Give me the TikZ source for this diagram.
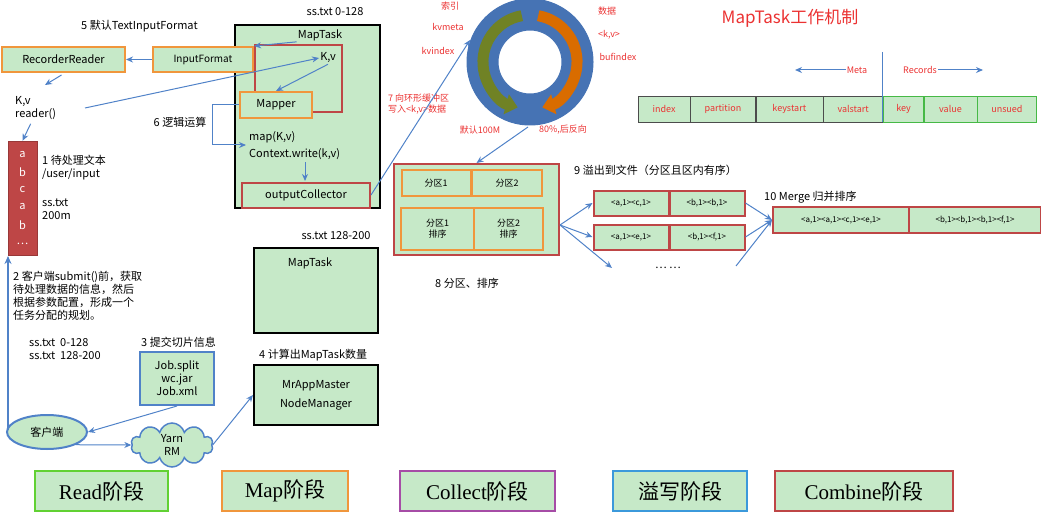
\documentclass[tikz,border=0pt]{standalone}
\usepackage{fontspec}
\setmainfont{Noto Sans CJK SC}
\newfontfamily\serifl{Liberation Serif}
\newfontfamily\cjk{Noto Sans CJK SC}
\usetikzlibrary{arrows.meta,shapes.geometric,shapes.symbols}
\definecolor{gfill}{RGB}{198,233,200}
\definecolor{obord}{RGB}{240,150,60}
\definecolor{rbord}{RGB}{190,70,70}
\definecolor{bline}{RGB}{80,130,200}
\definecolor{ringb}{RGB}{70,115,180}
\definecolor{redt}{RGB}{235,50,50}
\tikzset{
 x=1pt,y=-1pt,
 every node/.style={font=\fontsize{11}{13}\selectfont, inner sep=1pt},
 box/.style={draw, fill=gfill, line width=2pt, minimum height=25pt},
 ob/.style={box, draw=obord},
 rb/.style={box, draw=rbord},
 arr/.style={draw=bline, line width=1pt, -{Stealth[length=7pt,width=6pt]}},
 lbl/.style={anchor=west},
 stage/.style={draw, fill=gfill, line width=2.5pt, minimum height=40pt, font=\fontsize{21}{24}\selectfont},
 cell/.style={draw=gray!60!black, fill=gfill, minimum height=26pt, text=redt, font=\fontsize{9}{11}\selectfont, inner sep=0pt},
}
\begin{document}
\begin{tikzpicture}
\useasboundingbox (0,0) rectangle (1041,516);
% top-left
\node[draw, fill=gfill, line width=2pt, minimum width=145pt, minimum height=183pt] (mt1) at (307.5,116.5) {};
\node[lbl] (t5) at (80,26) {5 默认TextInputFormat};
\node[ob, minimum width=123pt] (rr) at (63.5,59.5) {RecorderReader};
\node[ob, minimum width=100pt, font=\fontsize{10}{12}\selectfont] (inf) at (203,59.5) {InputFormat};
\node (ss1) at (335,12) {ss.txt 0-128};
\node (mtl) at (320,35) {MapTask};
\node[draw=rbord, line width=2pt, minimum width=87pt, minimum height=67pt] (kvb) at (298.5,78.5) {};
\node (kv) at (328,58) {K,v};
\node[ob, minimum width=72pt, minimum height=26pt] (mapper) at (276,105) {Mapper};
\node[lbl] (mapf) at (248,137) {map(K,v)};
\node[lbl] (ctx) at (248,154) {Context.write(k,v)};
\node[rb, minimum width=128pt] (oc) at (306,195) {outputCollector};
\node (l6) at (180,122) {6 逻辑运算};
\node[lbl, align=left] (kvr) at (14,108) {K,v\\reader()};
\node[draw=rbord!80!black, fill=rbord, minimum width=29pt, minimum height=114pt] (col) at (22.5,198) {};
\foreach \c/\y in {a/155,b/172,c/190,a/207,b/225} \node[text=white] at (22.5,\y) {\c};
\node[text=white] at (22.5,244) {…};
\node[lbl, align=left] (t1) at (41,168) {1 待处理文本\\/user/input};
\node[lbl, align=left] (t1b) at (41,209) {ss.txt\\200m};
% second maptask
\node (ss2) at (336,236) {ss.txt 128-200};
\node[draw, fill=gfill, line width=2pt, minimum width=124pt, minimum height=85pt] (mt2) at (316,290.5) {};
\node (mt2l) at (310,263) {MapTask};
\node[lbl, align=left] (t2) at (12,296) {2 客户端submit()前，获取\\待处理数据的信息，然后\\根据参数配置，形成一个\\任务分配的规划。};
\node[lbl, align=left] (t2b) at (28,349) {ss.txt\ \ 0-128\\ss.txt\ \ 128-200};
\node[lbl] (t3) at (140,342) {3 提交切片信息};
\node[draw=bline, fill=gfill, line width=2pt, minimum width=74pt, minimum height=53pt, align=center] (job) at (177,378.5) {Job.split\\wc.jar\\Job.xml};
\node[lbl] (t4) at (258,355) {4 计算出MapTask数量};
\node[draw, fill=gfill, line width=2pt, minimum width=124pt, minimum height=60pt, align=center] (mam) at (316,395) {MrAppMaster\\[6pt]NodeManager};
\node[ellipse, draw=bline, fill=gfill, line width=2pt, minimum width=80pt, minimum height=34pt] (cli) at (47,432) {客户端};
\node[cloud, draw=bline, fill=gfill, line width=1.5pt, cloud puffs=10, minimum width=82pt, minimum height=44pt, align=center] (yarn) at (172,445) {Yarn\\RM};
% ring
\fill[ringb] (530,62) circle (63);
\fill[white] (530,62) circle (32);
\draw[draw=ringb, line width=1pt] (530,62) circle (63) (530,62) circle (32);
\draw[line width=11pt, draw=olive!70!green!80!black, -{Triangle[length=12pt,width=20pt]}] (521.8,15.7) arc[start angle=-100, end angle=-255, radius=47];
\draw[line width=11pt, draw=orange!85!black, -{Triangle[length=12pt,width=20pt]}] (538.2,15.7) arc[start angle=-80, end angle=75, radius=47];
\node[text=redt, font=\fontsize{9}{11}\selectfont] at (450,6) {索引};
\node[text=redt, font=\fontsize{9}{11}\selectfont] at (448,27) {kvmeta};
\node[text=redt, font=\fontsize{9}{11}\selectfont] at (438,51) {kvindex};
\node[text=redt, font=\fontsize{9}{11}\selectfont] at (607,11) {数据};
\node[text=redt, font=\fontsize{9}{11}\selectfont] at (609,35) {<k,v>};
\node[text=redt, font=\fontsize{9}{11}\selectfont] at (618,57) {bufindex};
\node[lbl, text=redt, align=left, font=\fontsize{9}{11}\selectfont] at (387,104) {7 向环形缓冲区\\写入<k,v>数据};
\node[text=redt, font=\fontsize{9}{11}\selectfont] at (480,130) {默认100M};
\node[text=redt, font=\fontsize{9}{11}\selectfont] at (563,130) {80\%,后反向};
\coordinate (ringL) at (470,40);
\coordinate (ringB) at (528,127);
% spill
\node[rb, minimum width=165pt, minimum height=91pt] (sp) at (476.5,209.5) {};
\node[ob, minimum width=69pt, minimum height=26pt, font=\fontsize{9}{11}\selectfont] (p1) at (436,183) {分区1};
\node[ob, minimum width=70pt, minimum height=26pt, font=\fontsize{9}{11}\selectfont] (p2) at (507,183) {分区2};
\node[ob, minimum width=73pt, minimum height=42pt, align=center, font=\fontsize{9}{11}\selectfont] (p3) at (437.5,229) {分区1\\排序};
\node[ob, minimum width=69pt, minimum height=42pt, align=center, font=\fontsize{9}{11}\selectfont] (p4) at (508.5,229) {分区2\\排序};
\node (t8) at (467,283) {8 分区、排序};
\node[lbl] (t9) at (573,170) {9 溢出到文件（分区且区内有序）};
\tikzset{sf/.style={rb, minimum width=75pt, minimum height=25pt, font=\fontsize{8}{10}\selectfont}}
\node[sf] (f1) at (631,203) {<a,1><c,1>};
\node[sf] (f2) at (707,203) {<b,1><b,1>};
\node[sf] (f3) at (631,237) {<a,1><e,1>};
\node[sf] (f4) at (707,237) {<b,1><f,1>};
\node (dots) at (668,268) {… …};
\node[lbl] (t10) at (763,197) {10 Merge 归并排序};
\node[rb, minimum width=136pt, minimum height=26pt, font=\fontsize{8}{10}\selectfont] (m1) at (841,220) {<a,1><a,1><c,1><e,1>};
\node[rb, minimum width=132pt, minimum height=26pt, font=\fontsize{8}{10}\selectfont] (m2) at (975,220) {<b,1><b,1><b,1><f,1>};
\coordinate (spo) at (560,225);
\coordinate (d1) at (612,268);
\coordinate (d2) at (736,266);
% title and table
\node[text=redt, font=\fontsize{17}{20}\selectfont] (title) at (790,18) {MapTask工作机制};
\node[cell, minimum width=52pt] (c1) at (664,109) {index};
\node[cell, minimum width=65pt, anchor=west] (c2) at (c1.east) {partition};
\node[cell, minimum width=67pt, anchor=west] (c3) at (c2.east) {keystart};
\node[cell, minimum width=60pt, anchor=west] (c4) at (c3.east) {valstart};
\node[cell, draw=green!45!gray, minimum width=40pt, anchor=west] (c5) at (c4.east) {key};
\node[cell, draw=green!45!gray, minimum width=53pt, anchor=west] (c6) at (c5.east) {value};
\node[cell, draw=green!45!gray, minimum width=59pt, anchor=west] (c7) at (c6.east) {unsued};
\draw[bline, line width=1pt] (882,52) -- (882,122);
\node[text=redt, font=\fontsize{9}{11}\selectfont] (meta) at (857,70) {Meta};
\node[text=redt, font=\fontsize{9}{11}\selectfont] (rec) at (920,70) {Records};
\coordinate (ma) at (795,70);
\coordinate (ra) at (983,70);
% stages
\node[stage, draw=green!55!olive!80, minimum width=133pt] (s1) at (101.5,491) {\serifl Read\cjk 阶段};
\node[stage, draw=obord, minimum width=126pt] (s2) at (285,491) {\serifl Map\cjk 阶段};
\node[stage, draw=violet!70, minimum width=155pt] (s3) at (477.5,491) {\serifl Collect\cjk 阶段};
\node[stage, draw=cyan!70!blue!80, minimum width=134pt] (s4) at (680,491) {\cjk 溢写阶段};
\node[stage, draw=rbord, minimum width=178pt] (s5) at (864,491) {\serifl Combine\cjk 阶段};
% arrows
\draw[arr] (mtl.south west) -- (inf.north east);
\draw[arr] (inf) -- (rr);
\draw[arr] (rr.south) ++(-2,2) -- (45,85);
\draw[arr] (kvr.south) ++(-5,3) -- (col.north);
\draw[arr] (85,108) -- (kv.west);
\draw[arr] (kv.south) -- (mapper.north);
\draw[arr] (mapper.west) -| (212,145) -- (246,145);
\draw[arr] (305,162) -- (305,181);
\draw[arr] (oc.east) -- (ringL);
\draw[arr] (ringB) -- (sp.north);
\draw[arr] (spo) -- (f1.west);
\draw[arr] (spo) -- (f3.west);
\draw[arr] (spo) -- (d1);
\draw[arr] (f2.east) -- (m1.west);
\draw[arr] (f4.east) -- (m1.west);
\draw[arr] (d2) -- (m1.west);
\draw[arr] (meta) -- (ma);
\draw[arr] (rec) -- (ra);
\draw[arr] (job.south) -- (cli.east);
\draw[arr] (cli.south east) -- (yarn.west);
\draw[arr] (yarn.east) -- (mam.west);
\draw[draw=bline, line width=2.5pt, -{Stealth[length=8pt,width=7pt]}] (8,430) -- (8,256);
\end{tikzpicture}
\end{document}
